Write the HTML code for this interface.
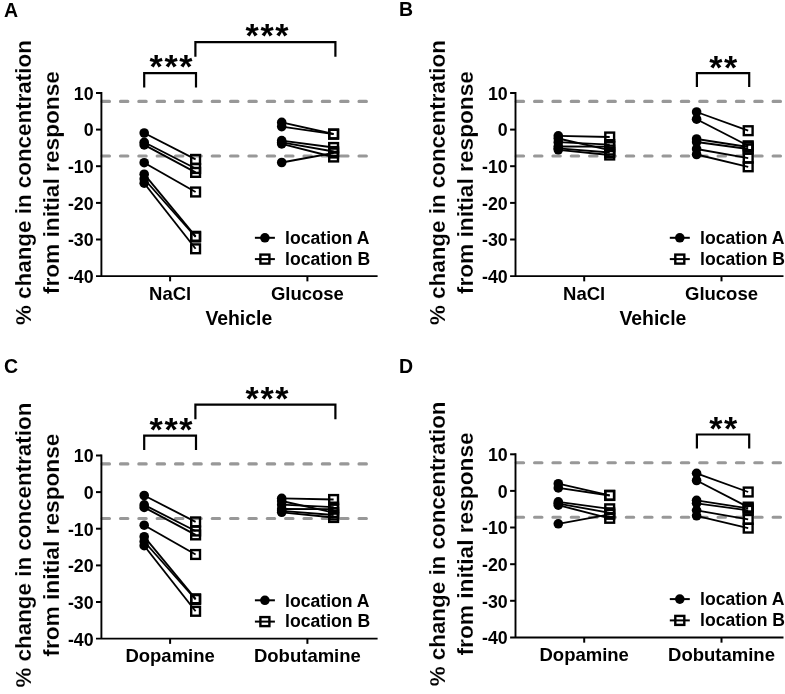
<!DOCTYPE html>
<html><head><meta charset="utf-8"><title>Figure</title><style>html,body{margin:0;padding:0;background:#fff;overflow:hidden}svg{display:block}</style></head><body>
<svg width="785" height="694" viewBox="0 0 785 694" font-family='"Liberation Sans", Arial, sans-serif' fill="#000">
<style>.t{stroke:#fff;stroke-width:0.15px}</style><rect width="785" height="694" fill="#fff"/>
<text x="4" y="16.5" font-size="19.5" font-weight="bold">A</text>
<text x="399" y="16" font-size="19.5" font-weight="bold">B</text>
<text x="4" y="373" font-size="19.5" font-weight="bold">C</text>
<text x="399" y="373" font-size="19.5" font-weight="bold">D</text>
<line x1="102.1" y1="101.39" x2="368.4" y2="101.39" stroke="#989898" stroke-width="3.1" stroke-dasharray="7.4 10.95" stroke-linecap="round"/>
<line x1="102.1" y1="155.98" x2="368.4" y2="155.98" stroke="#989898" stroke-width="3.1" stroke-dasharray="7.4 10.95" stroke-linecap="round"/>
<path d="M101.4 91.96V276.16M96.0 276.16H377.6" fill="none" stroke="#000" stroke-width="1.9"/>
<line x1="96.0" y1="93.0" x2="101.4" y2="93.0" stroke="#000" stroke-width="2"/>
<line x1="96.0" y1="129.6" x2="101.4" y2="129.6" stroke="#000" stroke-width="2"/>
<line x1="96.0" y1="166.2" x2="101.4" y2="166.2" stroke="#000" stroke-width="2"/>
<line x1="96.0" y1="202.9" x2="101.4" y2="202.9" stroke="#000" stroke-width="2"/>
<line x1="96.0" y1="239.5" x2="101.4" y2="239.5" stroke="#000" stroke-width="2"/>
<line x1="170.1" y1="276.16" x2="170.1" y2="281.36" stroke="#000" stroke-width="2"/>
<line x1="307.4" y1="276.16" x2="307.4" y2="281.36" stroke="#000" stroke-width="2"/>
<text x="93.6" y="99.8" text-anchor="end" font-size="17.8" font-weight="bold">10</text>
<text x="93.6" y="136.4" text-anchor="end" font-size="17.8" font-weight="bold">0</text>
<text x="93.6" y="173.0" text-anchor="end" font-size="17.8" font-weight="bold">-10</text>
<text x="93.6" y="209.7" text-anchor="end" font-size="17.8" font-weight="bold">-20</text>
<text x="93.6" y="246.3" text-anchor="end" font-size="17.8" font-weight="bold">-30</text>
<text x="93.6" y="283.0" text-anchor="end" font-size="17.8" font-weight="bold">-40</text>
<text x="170.1" y="299.9" text-anchor="middle" font-size="18.5" font-weight="bold">NaCl</text>
<text x="307.4" y="299.9" text-anchor="middle" font-size="18.5" font-weight="bold">Glucose</text>
<text x="238.8" y="324.7" text-anchor="middle" font-size="19.4" font-weight="bold">Vehicle</text>
<text transform="translate(31.0 182.6) rotate(-90)" class="t" text-anchor="middle" font-size="22.4" font-weight="bold">% change in concentration</text>
<text transform="translate(58.6 182.6) rotate(-90)" class="t" text-anchor="middle" font-size="22.7" font-weight="bold">from initial response</text>
<line x1="144.2" y1="133.0" x2="195.6" y2="159.4" stroke="#000" stroke-width="1.85"/>
<line x1="144.2" y1="142.3" x2="195.6" y2="168.5" stroke="#000" stroke-width="1.85"/>
<line x1="144.2" y1="144.9" x2="195.6" y2="172.4" stroke="#000" stroke-width="1.85"/>
<line x1="144.2" y1="162.7" x2="195.6" y2="192.0" stroke="#000" stroke-width="1.85"/>
<line x1="144.2" y1="174.2" x2="195.6" y2="236.3" stroke="#000" stroke-width="1.85"/>
<line x1="144.2" y1="179.0" x2="195.6" y2="237.0" stroke="#000" stroke-width="1.85"/>
<line x1="144.2" y1="183.2" x2="195.6" y2="248.8" stroke="#000" stroke-width="1.85"/>
<rect x="191.2" y="155.0" width="8.8" height="8.8" fill="none" stroke="#000" stroke-width="2.4"/>
<rect x="191.2" y="164.1" width="8.8" height="8.8" fill="none" stroke="#000" stroke-width="2.4"/>
<rect x="191.2" y="168.0" width="8.8" height="8.8" fill="none" stroke="#000" stroke-width="2.4"/>
<rect x="191.2" y="187.6" width="8.8" height="8.8" fill="none" stroke="#000" stroke-width="2.4"/>
<rect x="191.2" y="231.9" width="8.8" height="8.8" fill="none" stroke="#000" stroke-width="2.4"/>
<rect x="191.2" y="232.6" width="8.8" height="8.8" fill="none" stroke="#000" stroke-width="2.4"/>
<rect x="191.2" y="244.4" width="8.8" height="8.8" fill="none" stroke="#000" stroke-width="2.4"/>
<circle cx="144.2" cy="133.0" r="4.8" fill="#000"/>
<circle cx="144.2" cy="142.3" r="4.8" fill="#000"/>
<circle cx="144.2" cy="144.9" r="4.8" fill="#000"/>
<circle cx="144.2" cy="162.7" r="4.8" fill="#000"/>
<circle cx="144.2" cy="174.2" r="4.8" fill="#000"/>
<circle cx="144.2" cy="179.0" r="4.8" fill="#000"/>
<circle cx="144.2" cy="183.2" r="4.8" fill="#000"/>
<line x1="281.7" y1="122.4" x2="333.6" y2="134.0" stroke="#000" stroke-width="1.85"/>
<line x1="281.7" y1="126.6" x2="333.6" y2="134.2" stroke="#000" stroke-width="1.85"/>
<line x1="281.7" y1="140.6" x2="333.6" y2="147.5" stroke="#000" stroke-width="1.85"/>
<line x1="281.7" y1="142.3" x2="333.6" y2="151.5" stroke="#000" stroke-width="1.85"/>
<line x1="281.7" y1="143.9" x2="333.6" y2="157.0" stroke="#000" stroke-width="1.85"/>
<line x1="281.7" y1="162.5" x2="333.6" y2="153.0" stroke="#000" stroke-width="1.85"/>
<rect x="329.2" y="129.6" width="8.8" height="8.8" fill="none" stroke="#000" stroke-width="2.4"/>
<rect x="329.2" y="129.8" width="8.8" height="8.8" fill="none" stroke="#000" stroke-width="2.4"/>
<rect x="329.2" y="143.1" width="8.8" height="8.8" fill="none" stroke="#000" stroke-width="2.4"/>
<rect x="329.2" y="147.1" width="8.8" height="8.8" fill="none" stroke="#000" stroke-width="2.4"/>
<rect x="329.2" y="152.6" width="8.8" height="8.8" fill="none" stroke="#000" stroke-width="2.4"/>
<rect x="329.2" y="148.6" width="8.8" height="8.8" fill="none" stroke="#000" stroke-width="2.4"/>
<circle cx="281.7" cy="122.4" r="4.8" fill="#000"/>
<circle cx="281.7" cy="126.6" r="4.8" fill="#000"/>
<circle cx="281.7" cy="140.6" r="4.8" fill="#000"/>
<circle cx="281.7" cy="142.3" r="4.8" fill="#000"/>
<circle cx="281.7" cy="143.9" r="4.8" fill="#000"/>
<circle cx="281.7" cy="162.5" r="4.8" fill="#000"/>
<line x1="254.9" y1="237.8" x2="274.9" y2="237.8" stroke="#000" stroke-width="2"/>
<circle cx="264.9" cy="237.8" r="4.8" fill="#000"/>
<line x1="254.9" y1="259.1" x2="274.9" y2="259.1" stroke="#000" stroke-width="2"/>
<rect x="260.4" y="254.6" width="9" height="9" fill="none" stroke="#000" stroke-width="2.4"/>
<text x="285.1" y="244.1" font-size="17.6" font-weight="bold">location A</text>
<text x="285.1" y="264.9" font-size="17.6" font-weight="bold">location B</text>
<path d="M144.2 87.4V73.2H196.0V87.4" fill="none" stroke="#000" stroke-width="2.2"/>
<text x="156.1" y="78.4" text-anchor="middle" font-size="34" font-weight="bold">*</text>
<text x="171.0" y="78.4" text-anchor="middle" font-size="34" font-weight="bold">*</text>
<text x="185.9" y="78.4" text-anchor="middle" font-size="34" font-weight="bold">*</text>
<path d="M195.4 56.8V42.1H335.4V56.8" fill="none" stroke="#000" stroke-width="2.2"/>
<text x="252.1" y="47.1" text-anchor="middle" font-size="34" font-weight="bold">*</text>
<text x="267.0" y="47.1" text-anchor="middle" font-size="34" font-weight="bold">*</text>
<text x="281.9" y="47.1" text-anchor="middle" font-size="34" font-weight="bold">*</text>
<line x1="516.2" y1="101.39" x2="782.5" y2="101.39" stroke="#989898" stroke-width="3.1" stroke-dasharray="7.4 10.95" stroke-linecap="round"/>
<line x1="516.2" y1="155.98" x2="782.5" y2="155.98" stroke="#989898" stroke-width="3.1" stroke-dasharray="7.4 10.95" stroke-linecap="round"/>
<path d="M515.5 91.96V276.16M510.1 276.16H783.5" fill="none" stroke="#000" stroke-width="1.9"/>
<line x1="510.1" y1="93.0" x2="515.5" y2="93.0" stroke="#000" stroke-width="2"/>
<line x1="510.1" y1="129.6" x2="515.5" y2="129.6" stroke="#000" stroke-width="2"/>
<line x1="510.1" y1="166.2" x2="515.5" y2="166.2" stroke="#000" stroke-width="2"/>
<line x1="510.1" y1="202.9" x2="515.5" y2="202.9" stroke="#000" stroke-width="2"/>
<line x1="510.1" y1="239.5" x2="515.5" y2="239.5" stroke="#000" stroke-width="2"/>
<line x1="584.2" y1="276.16" x2="584.2" y2="281.36" stroke="#000" stroke-width="2"/>
<line x1="721.5" y1="276.16" x2="721.5" y2="281.36" stroke="#000" stroke-width="2"/>
<text x="507.7" y="99.8" text-anchor="end" font-size="17.8" font-weight="bold">10</text>
<text x="507.7" y="136.4" text-anchor="end" font-size="17.8" font-weight="bold">0</text>
<text x="507.7" y="173.0" text-anchor="end" font-size="17.8" font-weight="bold">-10</text>
<text x="507.7" y="209.7" text-anchor="end" font-size="17.8" font-weight="bold">-20</text>
<text x="507.7" y="246.3" text-anchor="end" font-size="17.8" font-weight="bold">-30</text>
<text x="507.7" y="283.0" text-anchor="end" font-size="17.8" font-weight="bold">-40</text>
<text x="584.2" y="299.9" text-anchor="middle" font-size="18.5" font-weight="bold">NaCl</text>
<text x="721.5" y="299.9" text-anchor="middle" font-size="18.5" font-weight="bold">Glucose</text>
<text x="652.9" y="324.7" text-anchor="middle" font-size="19.4" font-weight="bold">Vehicle</text>
<text transform="translate(445.1 182.6) rotate(-90)" class="t" text-anchor="middle" font-size="22.4" font-weight="bold">% change in concentration</text>
<text transform="translate(472.7 182.6) rotate(-90)" class="t" text-anchor="middle" font-size="22.7" font-weight="bold">from initial response</text>
<line x1="558.3" y1="135.8" x2="609.7" y2="137.0" stroke="#000" stroke-width="1.85"/>
<line x1="558.3" y1="138.5" x2="609.7" y2="150.1" stroke="#000" stroke-width="1.85"/>
<line x1="558.3" y1="142.2" x2="609.7" y2="144.6" stroke="#000" stroke-width="1.85"/>
<line x1="558.3" y1="146.5" x2="609.7" y2="146.6" stroke="#000" stroke-width="1.85"/>
<line x1="558.3" y1="148.3" x2="609.7" y2="152.5" stroke="#000" stroke-width="1.85"/>
<line x1="558.3" y1="149.8" x2="609.7" y2="155.0" stroke="#000" stroke-width="1.85"/>
<rect x="605.3" y="132.6" width="8.8" height="8.8" fill="none" stroke="#000" stroke-width="2.4"/>
<rect x="605.3" y="145.7" width="8.8" height="8.8" fill="none" stroke="#000" stroke-width="2.4"/>
<rect x="605.3" y="140.2" width="8.8" height="8.8" fill="none" stroke="#000" stroke-width="2.4"/>
<rect x="605.3" y="142.2" width="8.8" height="8.8" fill="none" stroke="#000" stroke-width="2.4"/>
<rect x="605.3" y="148.1" width="8.8" height="8.8" fill="none" stroke="#000" stroke-width="2.4"/>
<rect x="605.3" y="150.6" width="8.8" height="8.8" fill="none" stroke="#000" stroke-width="2.4"/>
<circle cx="558.3" cy="135.8" r="4.8" fill="#000"/>
<circle cx="558.3" cy="138.5" r="4.8" fill="#000"/>
<circle cx="558.3" cy="142.2" r="4.8" fill="#000"/>
<circle cx="558.3" cy="146.5" r="4.8" fill="#000"/>
<circle cx="558.3" cy="148.3" r="4.8" fill="#000"/>
<circle cx="558.3" cy="149.8" r="4.8" fill="#000"/>
<line x1="696.6" y1="112.0" x2="748.2" y2="130.7" stroke="#000" stroke-width="1.85"/>
<line x1="696.6" y1="119.2" x2="748.2" y2="145.8" stroke="#000" stroke-width="1.85"/>
<line x1="696.6" y1="139.0" x2="748.2" y2="147.0" stroke="#000" stroke-width="1.85"/>
<line x1="696.6" y1="142.0" x2="748.2" y2="149.0" stroke="#000" stroke-width="1.85"/>
<line x1="696.6" y1="149.0" x2="748.2" y2="158.1" stroke="#000" stroke-width="1.85"/>
<line x1="696.6" y1="154.5" x2="748.2" y2="166.8" stroke="#000" stroke-width="1.85"/>
<rect x="743.8" y="126.3" width="8.8" height="8.8" fill="none" stroke="#000" stroke-width="2.4"/>
<rect x="743.8" y="141.4" width="8.8" height="8.8" fill="none" stroke="#000" stroke-width="2.4"/>
<rect x="743.8" y="142.6" width="8.8" height="8.8" fill="none" stroke="#000" stroke-width="2.4"/>
<rect x="743.8" y="144.6" width="8.8" height="8.8" fill="none" stroke="#000" stroke-width="2.4"/>
<rect x="743.8" y="153.7" width="8.8" height="8.8" fill="none" stroke="#000" stroke-width="2.4"/>
<rect x="743.8" y="162.4" width="8.8" height="8.8" fill="none" stroke="#000" stroke-width="2.4"/>
<circle cx="696.6" cy="112.0" r="4.8" fill="#000"/>
<circle cx="696.6" cy="119.2" r="4.8" fill="#000"/>
<circle cx="696.6" cy="139.0" r="4.8" fill="#000"/>
<circle cx="696.6" cy="142.0" r="4.8" fill="#000"/>
<circle cx="696.6" cy="149.0" r="4.8" fill="#000"/>
<circle cx="696.6" cy="154.5" r="4.8" fill="#000"/>
<line x1="669.8" y1="237.8" x2="689.8" y2="237.8" stroke="#000" stroke-width="2"/>
<circle cx="679.8" cy="237.8" r="4.8" fill="#000"/>
<line x1="669.8" y1="259.1" x2="689.8" y2="259.1" stroke="#000" stroke-width="2"/>
<rect x="675.3" y="254.6" width="9" height="9" fill="none" stroke="#000" stroke-width="2.4"/>
<text x="700.0" y="244.1" font-size="17.6" font-weight="bold">location A</text>
<text x="700.0" y="264.9" font-size="17.6" font-weight="bold">location B</text>
<path d="M696.9 87.1V73.2H749.2V87.1" fill="none" stroke="#000" stroke-width="2.2"/>
<text x="715.8" y="79.1" text-anchor="middle" font-size="34" font-weight="bold">*</text>
<text x="730.6" y="79.1" text-anchor="middle" font-size="34" font-weight="bold">*</text>
<line x1="102.1" y1="463.89" x2="368.4" y2="463.89" stroke="#989898" stroke-width="3.1" stroke-dasharray="7.4 10.95" stroke-linecap="round"/>
<line x1="102.1" y1="518.48" x2="368.4" y2="518.48" stroke="#989898" stroke-width="3.1" stroke-dasharray="7.4 10.95" stroke-linecap="round"/>
<path d="M101.4 454.46V638.66M96.0 638.66H377.6" fill="none" stroke="#000" stroke-width="1.9"/>
<line x1="96.0" y1="455.5" x2="101.4" y2="455.5" stroke="#000" stroke-width="2"/>
<line x1="96.0" y1="492.1" x2="101.4" y2="492.1" stroke="#000" stroke-width="2"/>
<line x1="96.0" y1="528.7" x2="101.4" y2="528.7" stroke="#000" stroke-width="2"/>
<line x1="96.0" y1="565.4" x2="101.4" y2="565.4" stroke="#000" stroke-width="2"/>
<line x1="96.0" y1="602.0" x2="101.4" y2="602.0" stroke="#000" stroke-width="2"/>
<line x1="170.1" y1="638.66" x2="170.1" y2="643.86" stroke="#000" stroke-width="2"/>
<line x1="307.4" y1="638.66" x2="307.4" y2="643.86" stroke="#000" stroke-width="2"/>
<text x="93.6" y="462.3" text-anchor="end" font-size="17.8" font-weight="bold">10</text>
<text x="93.6" y="498.9" text-anchor="end" font-size="17.8" font-weight="bold">0</text>
<text x="93.6" y="535.5" text-anchor="end" font-size="17.8" font-weight="bold">-10</text>
<text x="93.6" y="572.2" text-anchor="end" font-size="17.8" font-weight="bold">-20</text>
<text x="93.6" y="608.8" text-anchor="end" font-size="17.8" font-weight="bold">-30</text>
<text x="93.6" y="645.5" text-anchor="end" font-size="17.8" font-weight="bold">-40</text>
<text x="170.1" y="662.4" text-anchor="middle" font-size="18.5" font-weight="bold">Dopamine</text>
<text x="307.4" y="662.4" text-anchor="middle" font-size="18.5" font-weight="bold">Dobutamine</text>
<text transform="translate(31.0 545.1) rotate(-90)" class="t" text-anchor="middle" font-size="22.4" font-weight="bold">% change in concentration</text>
<text transform="translate(58.6 545.1) rotate(-90)" class="t" text-anchor="middle" font-size="22.7" font-weight="bold">from initial response</text>
<line x1="144.2" y1="495.5" x2="195.6" y2="521.9" stroke="#000" stroke-width="1.85"/>
<line x1="144.2" y1="504.9" x2="195.6" y2="531.0" stroke="#000" stroke-width="1.85"/>
<line x1="144.2" y1="507.4" x2="195.6" y2="534.9" stroke="#000" stroke-width="1.85"/>
<line x1="144.2" y1="525.2" x2="195.6" y2="554.5" stroke="#000" stroke-width="1.85"/>
<line x1="144.2" y1="536.7" x2="195.6" y2="598.8" stroke="#000" stroke-width="1.85"/>
<line x1="144.2" y1="541.5" x2="195.6" y2="599.5" stroke="#000" stroke-width="1.85"/>
<line x1="144.2" y1="545.7" x2="195.6" y2="611.3" stroke="#000" stroke-width="1.85"/>
<rect x="191.2" y="517.5" width="8.8" height="8.8" fill="none" stroke="#000" stroke-width="2.4"/>
<rect x="191.2" y="526.6" width="8.8" height="8.8" fill="none" stroke="#000" stroke-width="2.4"/>
<rect x="191.2" y="530.5" width="8.8" height="8.8" fill="none" stroke="#000" stroke-width="2.4"/>
<rect x="191.2" y="550.1" width="8.8" height="8.8" fill="none" stroke="#000" stroke-width="2.4"/>
<rect x="191.2" y="594.4" width="8.8" height="8.8" fill="none" stroke="#000" stroke-width="2.4"/>
<rect x="191.2" y="595.1" width="8.8" height="8.8" fill="none" stroke="#000" stroke-width="2.4"/>
<rect x="191.2" y="606.9" width="8.8" height="8.8" fill="none" stroke="#000" stroke-width="2.4"/>
<circle cx="144.2" cy="495.5" r="4.8" fill="#000"/>
<circle cx="144.2" cy="504.9" r="4.8" fill="#000"/>
<circle cx="144.2" cy="507.4" r="4.8" fill="#000"/>
<circle cx="144.2" cy="525.2" r="4.8" fill="#000"/>
<circle cx="144.2" cy="536.7" r="4.8" fill="#000"/>
<circle cx="144.2" cy="541.5" r="4.8" fill="#000"/>
<circle cx="144.2" cy="545.7" r="4.8" fill="#000"/>
<line x1="281.7" y1="498.3" x2="333.6" y2="499.5" stroke="#000" stroke-width="1.85"/>
<line x1="281.7" y1="501.0" x2="333.6" y2="512.6" stroke="#000" stroke-width="1.85"/>
<line x1="281.7" y1="504.7" x2="333.6" y2="507.1" stroke="#000" stroke-width="1.85"/>
<line x1="281.7" y1="509.0" x2="333.6" y2="509.1" stroke="#000" stroke-width="1.85"/>
<line x1="281.7" y1="510.8" x2="333.6" y2="515.0" stroke="#000" stroke-width="1.85"/>
<line x1="281.7" y1="512.3" x2="333.6" y2="517.5" stroke="#000" stroke-width="1.85"/>
<rect x="329.2" y="495.1" width="8.8" height="8.8" fill="none" stroke="#000" stroke-width="2.4"/>
<rect x="329.2" y="508.2" width="8.8" height="8.8" fill="none" stroke="#000" stroke-width="2.4"/>
<rect x="329.2" y="502.7" width="8.8" height="8.8" fill="none" stroke="#000" stroke-width="2.4"/>
<rect x="329.2" y="504.7" width="8.8" height="8.8" fill="none" stroke="#000" stroke-width="2.4"/>
<rect x="329.2" y="510.6" width="8.8" height="8.8" fill="none" stroke="#000" stroke-width="2.4"/>
<rect x="329.2" y="513.1" width="8.8" height="8.8" fill="none" stroke="#000" stroke-width="2.4"/>
<circle cx="281.7" cy="498.3" r="4.8" fill="#000"/>
<circle cx="281.7" cy="501.0" r="4.8" fill="#000"/>
<circle cx="281.7" cy="504.7" r="4.8" fill="#000"/>
<circle cx="281.7" cy="509.0" r="4.8" fill="#000"/>
<circle cx="281.7" cy="510.8" r="4.8" fill="#000"/>
<circle cx="281.7" cy="512.3" r="4.8" fill="#000"/>
<line x1="254.9" y1="600.3" x2="274.9" y2="600.3" stroke="#000" stroke-width="2"/>
<circle cx="264.9" cy="600.3" r="4.8" fill="#000"/>
<line x1="254.9" y1="621.6" x2="274.9" y2="621.6" stroke="#000" stroke-width="2"/>
<rect x="260.4" y="617.1" width="9" height="9" fill="none" stroke="#000" stroke-width="2.4"/>
<text x="285.1" y="606.6" font-size="17.6" font-weight="bold">location A</text>
<text x="285.1" y="627.4" font-size="17.6" font-weight="bold">location B</text>
<path d="M144.2 449.9V435.7H196.0V449.9" fill="none" stroke="#000" stroke-width="2.2"/>
<text x="156.1" y="440.9" text-anchor="middle" font-size="34" font-weight="bold">*</text>
<text x="171.0" y="440.9" text-anchor="middle" font-size="34" font-weight="bold">*</text>
<text x="185.9" y="440.9" text-anchor="middle" font-size="34" font-weight="bold">*</text>
<path d="M195.4 419.3V404.6H335.4V419.3" fill="none" stroke="#000" stroke-width="2.2"/>
<text x="252.1" y="409.6" text-anchor="middle" font-size="34" font-weight="bold">*</text>
<text x="267.0" y="409.6" text-anchor="middle" font-size="34" font-weight="bold">*</text>
<text x="281.9" y="409.6" text-anchor="middle" font-size="34" font-weight="bold">*</text>
<line x1="516.2" y1="462.69" x2="782.5" y2="462.69" stroke="#989898" stroke-width="3.1" stroke-dasharray="7.4 10.95" stroke-linecap="round"/>
<line x1="516.2" y1="517.28" x2="782.5" y2="517.28" stroke="#989898" stroke-width="3.1" stroke-dasharray="7.4 10.95" stroke-linecap="round"/>
<path d="M515.5 453.26V637.46M510.1 637.46H783.5" fill="none" stroke="#000" stroke-width="1.9"/>
<line x1="510.1" y1="454.3" x2="515.5" y2="454.3" stroke="#000" stroke-width="2"/>
<line x1="510.1" y1="490.9" x2="515.5" y2="490.9" stroke="#000" stroke-width="2"/>
<line x1="510.1" y1="527.5" x2="515.5" y2="527.5" stroke="#000" stroke-width="2"/>
<line x1="510.1" y1="564.2" x2="515.5" y2="564.2" stroke="#000" stroke-width="2"/>
<line x1="510.1" y1="600.8" x2="515.5" y2="600.8" stroke="#000" stroke-width="2"/>
<line x1="584.2" y1="637.46" x2="584.2" y2="642.66" stroke="#000" stroke-width="2"/>
<line x1="721.5" y1="637.46" x2="721.5" y2="642.66" stroke="#000" stroke-width="2"/>
<text x="507.7" y="461.1" text-anchor="end" font-size="17.8" font-weight="bold">10</text>
<text x="507.7" y="497.7" text-anchor="end" font-size="17.8" font-weight="bold">0</text>
<text x="507.7" y="534.3" text-anchor="end" font-size="17.8" font-weight="bold">-10</text>
<text x="507.7" y="571.0" text-anchor="end" font-size="17.8" font-weight="bold">-20</text>
<text x="507.7" y="607.6" text-anchor="end" font-size="17.8" font-weight="bold">-30</text>
<text x="507.7" y="644.3" text-anchor="end" font-size="17.8" font-weight="bold">-40</text>
<text x="584.2" y="661.2" text-anchor="middle" font-size="18.5" font-weight="bold">Dopamine</text>
<text x="721.5" y="661.2" text-anchor="middle" font-size="18.5" font-weight="bold">Dobutamine</text>
<text transform="translate(445.1 543.9) rotate(-90)" class="t" text-anchor="middle" font-size="22.4" font-weight="bold">% change in concentration</text>
<text transform="translate(472.7 543.9) rotate(-90)" class="t" text-anchor="middle" font-size="22.7" font-weight="bold">from initial response</text>
<line x1="558.3" y1="483.7" x2="609.7" y2="495.3" stroke="#000" stroke-width="1.85"/>
<line x1="558.3" y1="487.9" x2="609.7" y2="495.5" stroke="#000" stroke-width="1.85"/>
<line x1="558.3" y1="501.9" x2="609.7" y2="508.8" stroke="#000" stroke-width="1.85"/>
<line x1="558.3" y1="503.6" x2="609.7" y2="512.8" stroke="#000" stroke-width="1.85"/>
<line x1="558.3" y1="505.2" x2="609.7" y2="518.3" stroke="#000" stroke-width="1.85"/>
<line x1="558.3" y1="523.8" x2="609.7" y2="514.3" stroke="#000" stroke-width="1.85"/>
<rect x="605.3" y="490.9" width="8.8" height="8.8" fill="none" stroke="#000" stroke-width="2.4"/>
<rect x="605.3" y="491.1" width="8.8" height="8.8" fill="none" stroke="#000" stroke-width="2.4"/>
<rect x="605.3" y="504.4" width="8.8" height="8.8" fill="none" stroke="#000" stroke-width="2.4"/>
<rect x="605.3" y="508.4" width="8.8" height="8.8" fill="none" stroke="#000" stroke-width="2.4"/>
<rect x="605.3" y="513.9" width="8.8" height="8.8" fill="none" stroke="#000" stroke-width="2.4"/>
<rect x="605.3" y="509.9" width="8.8" height="8.8" fill="none" stroke="#000" stroke-width="2.4"/>
<circle cx="558.3" cy="483.7" r="4.8" fill="#000"/>
<circle cx="558.3" cy="487.9" r="4.8" fill="#000"/>
<circle cx="558.3" cy="501.9" r="4.8" fill="#000"/>
<circle cx="558.3" cy="503.6" r="4.8" fill="#000"/>
<circle cx="558.3" cy="505.2" r="4.8" fill="#000"/>
<circle cx="558.3" cy="523.8" r="4.8" fill="#000"/>
<line x1="696.6" y1="473.3" x2="748.2" y2="492.0" stroke="#000" stroke-width="1.85"/>
<line x1="696.6" y1="480.5" x2="748.2" y2="507.1" stroke="#000" stroke-width="1.85"/>
<line x1="696.6" y1="500.3" x2="748.2" y2="508.3" stroke="#000" stroke-width="1.85"/>
<line x1="696.6" y1="503.3" x2="748.2" y2="510.3" stroke="#000" stroke-width="1.85"/>
<line x1="696.6" y1="510.3" x2="748.2" y2="519.4" stroke="#000" stroke-width="1.85"/>
<line x1="696.6" y1="515.8" x2="748.2" y2="528.1" stroke="#000" stroke-width="1.85"/>
<rect x="743.8" y="487.6" width="8.8" height="8.8" fill="none" stroke="#000" stroke-width="2.4"/>
<rect x="743.8" y="502.7" width="8.8" height="8.8" fill="none" stroke="#000" stroke-width="2.4"/>
<rect x="743.8" y="503.9" width="8.8" height="8.8" fill="none" stroke="#000" stroke-width="2.4"/>
<rect x="743.8" y="505.9" width="8.8" height="8.8" fill="none" stroke="#000" stroke-width="2.4"/>
<rect x="743.8" y="515.0" width="8.8" height="8.8" fill="none" stroke="#000" stroke-width="2.4"/>
<rect x="743.8" y="523.7" width="8.8" height="8.8" fill="none" stroke="#000" stroke-width="2.4"/>
<circle cx="696.6" cy="473.3" r="4.8" fill="#000"/>
<circle cx="696.6" cy="480.5" r="4.8" fill="#000"/>
<circle cx="696.6" cy="500.3" r="4.8" fill="#000"/>
<circle cx="696.6" cy="503.3" r="4.8" fill="#000"/>
<circle cx="696.6" cy="510.3" r="4.8" fill="#000"/>
<circle cx="696.6" cy="515.8" r="4.8" fill="#000"/>
<line x1="669.8" y1="599.1" x2="689.8" y2="599.1" stroke="#000" stroke-width="2"/>
<circle cx="679.8" cy="599.1" r="4.8" fill="#000"/>
<line x1="669.8" y1="620.4" x2="689.8" y2="620.4" stroke="#000" stroke-width="2"/>
<rect x="675.3" y="615.9" width="9" height="9" fill="none" stroke="#000" stroke-width="2.4"/>
<text x="700.0" y="605.4" font-size="17.6" font-weight="bold">location A</text>
<text x="700.0" y="626.2" font-size="17.6" font-weight="bold">location B</text>
<path d="M696.9 448.4V434.5H749.2V448.4" fill="none" stroke="#000" stroke-width="2.2"/>
<text x="715.8" y="440.4" text-anchor="middle" font-size="34" font-weight="bold">*</text>
<text x="730.6" y="440.4" text-anchor="middle" font-size="34" font-weight="bold">*</text>
</svg></body></html>
